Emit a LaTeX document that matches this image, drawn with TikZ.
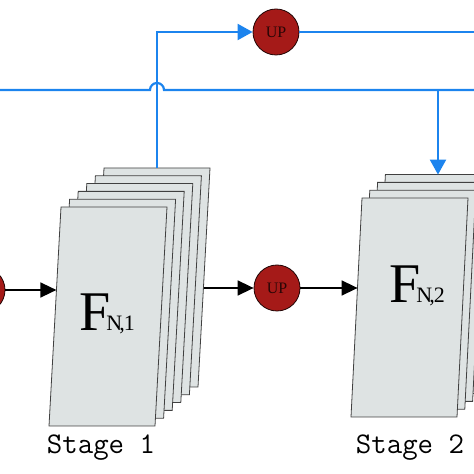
\documentclass[tikz,border=0pt]{standalone}
\usepackage{fontspec}
\setmainfont{Liberation Serif}
\usetikzlibrary{arrows.meta}
\definecolor{lineblue}{RGB}{28,132,238}
\definecolor{upred}{RGB}{165,26,24}
\definecolor{sheetgray}{RGB}{222,227,227}

\begin{document}
\begin{tikzpicture}[x=1pt,y=1pt]
        \tikzstyle{every node} = [inner sep=0pt]
        \tikzstyle{upc} = [circle, draw=black!80!upred, fill=upred, minimum size=46pt, line width=0.8pt,
            text=black!75!upred, font=\fontsize{16}{16}\selectfont]
        \tikzstyle{sheet} = [draw=black!75, fill=sheetgray, line width=0.8pt]
        \tikzstyle{blue} = [draw=lineblue, line width=2.2pt, -{Triangle[length=15pt,width=16pt]}]
        \tikzstyle{blk} = [draw=black, line width=1.6pt, -{Triangle[length=16pt,width=15pt]}]
        \tikzstyle{stg} = [font=\ttfamily\fontsize{30}{30}\selectfont]
        \tikzstyle{fn} = [font=\fontsize{56}{56}\selectfont]
        \useasboundingbox (0,0) rectangle (474,474);
        \clip (0,0) rectangle (474,474);
        % stage 1 sheets
        \foreach \i in {5,4,...,0}
            \filldraw[sheet] ({49+8.6*\i},{48+7.8*\i}) -- ++(106,0) -- ++(12,219) -- ++(-106,0) -- cycle;
        % stage 2 sheets
        \foreach \i in {3,2,1,0}
            \filldraw[sheet] ({351+7.8*\i},{57+7.8*\i}) -- ++(106,0) -- ++(11,219) -- ++(-106,0) -- cycle;
        \coordinate (s1in) at (56.4,184);
        \coordinate (s1out) at (203.6,186);
        \coordinate (s1top) at (157,306);
        \coordinate (s2in) at (357.6,186);
        \coordinate (s2top) at (438,299.4);
        \coordinate (ml) at (0,384);
        \coordinate (mr) at (474,384);
        \coordinate (mb) at (438,384);
        \coordinate (tr) at (474,442);
        \node[upc] (up0) at (-18,184) {};
        \node[upc] (up1) at (276,442) {UP};
        \node[upc] (up2) at (277,186) {UP};
        \node[fn] (f1) at (107,160) {F\kern-4pt{\fontsize{22}{22}\selectfont N\kern-3pt,\kern-1pt 1}};
        \node[fn] (f2) at (417,188) {F\kern-4pt{\fontsize{22}{22}\selectfont N\kern-3pt,\kern-1pt 2}};
        \node[stg] (st1) at (101,26) {Stage 1};
        \node[stg] (st2) at (410,26) {Stage 2};
        % connectors
        \foreach \from/\to in {up0/s1in, s1out/up2, up2/s2in}
            \draw[blk] (\from) -- (\to);
        \draw[blue] (s1top) |- (up1);
        \draw[blue, -] (up1) -- (tr);
        \draw[blue, -] (ml) -- (150,384) arc (180:0:7) -- (mr);
        \draw[blue] (mb) -- (s2top);
\end{tikzpicture}
\end{document}
